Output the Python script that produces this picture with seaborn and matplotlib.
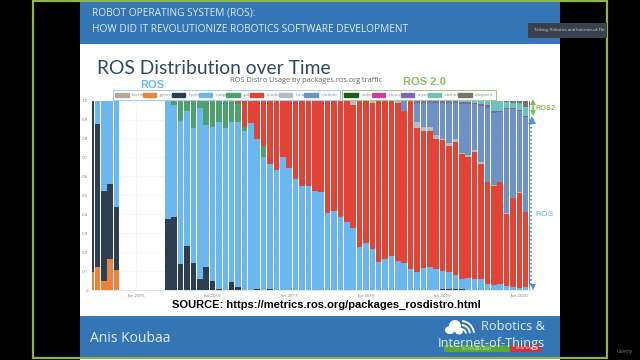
import numpy as np
import pandas as pd
import matplotlib
matplotlib.use("Agg")
import matplotlib.pyplot as plt
from matplotlib.patches import Rectangle, Patch, Ellipse, Arc
import seaborn as sns

# months shown on the chart, jun 2014 to mar 2020
months = [d.strftime("%Y-%m") for d in pd.date_range("2014-06-01", "2020-03-01", freq="MS")]
tick_months = ["2015-01", "2016-01", "2017-01", "2018-01", "2019-01", "2020-01"]
tick_labels = ["Jan 2015", "Jan 2016", "Jan 2017", "Jan 2018", "Jan 2019", "Jan 2020"]
y_ticks = [0, 0.1, 0.2, 0.3, 0.4, 0.5, 0.6, 0.7, 0.8, 0.9, 1.0]
y_labels = ["0", "0.1", "0.2", "0.3", "0.4", "0.5", "0.6", "0.7", "0.8", "0.9", "1.0"]

# top edge of every distro in the stack
# (5 bars, 7 empty months, then 58 bars)
gap = [0] * 7
groovy = [.096, .12, .05, .163, .105] + gap + [0] * 58
hydro = [1.0, .877, .521, .56, .439] + gap + [
    .374, .386, .137, .232, .14, .06, .12, .046, .003, .002, .04, .014, .001, .002, .007, .001, .005,
    0, 0, 0, 0, 0, 0, 0, 0, 0, 0, 0, 0, 0, 0, 0, 0, 0, 0, 0, 0, 0, 0,
    .002, .002, .002, .002, .003, .003, .004, .004, 0, 0, 0, 0, 0, 0, 0, 0, 0, 0, 0]
indigo = [1, 1, 1, 1, 1] + gap + [
    1.0, .977, .891, .945, .858, .963, .874, .861, .886, .858, .886, .886, .842, .88, .796, .70,
    .665, .635, .70, .646, .588, .547, .547, .521, .519,
    .407, .418, .386, .36, .325, .225, .25, .216, .149, .163, .179, .154, .144, .112, .096, .116,
    .119, .11, .098, .096, .077, .06, .063, .058, .058, .03, .026, .032, .021, .016, .01, .016, .015]
jade = [0] * 5 + gap + [0] + [1] * 10 + [.986, .863, 0, 0, .763] + [0] * 42
kinetic = [0] * 5 + gap + [0] * 11 + [1] * 18 + [.977, 1, 1, .986, 1, 1, 1, .99, .947, 1,
    .854, .84, .838, .796, .79, .761, .784, .716, .705, .73, .667,
    .568, .55, .568, .404, .484, .515, .41, .34]
lunar = [0] * 5 + gap + [0] * 29 + [1, 0, 0, 1, 0, 0, 0, 1, 0, 0,
    .886, .863, .863, .818, .80, .775, .8, .726, .714, .74, .674,
    .572, .556, .57, .408, .488, .518, .414, .345]
melodic = [0] * 5 + gap + [0] * 37 + [1, 0] + [.99] * 7 + [
    .985, .983, .982, .972, .961, .937, .94, .956, .955, .948, .916, .905]
crystal = [0] * 5 + gap + [0] * 39 + [1] * 7 + [
    .995, .993, .99, .985, .975, .945, .948, .962, .96, .952, .92, .91]
dashing = [0] * 5 + gap + [0] * 39 + [1] * 14 + [.995, .99, .99, .968, .96]
eloquent = [0] * 5 + gap + [0] * 53 + [1] * 5

colors = {"fuerte": "#b5a89a", "groovy": "#e8843e", "hydro": "#2c3e50", "indigo": "#6cb8ee",
          "jade": "#4fa06f", "kinetic": "#e04436", "lunar": "#b4bcc0", "melodic": "#6f92c4",
          "ardent": "#1f5b1f", "bouncy": "#d040a0", "crystal": "#7d67b0", "dashing": "#6cc2bd",
          "eloquent": "#75756a"}
ros1_names = ["fuerte", "groovy", "hydro", "indigo", "jade", "kinetic", "lunar", "melodic"]
ros2_names = ["ardent", "bouncy", "crystal", "dashing", "eloquent"]

W, H = 640, 360
sns.set_theme(style="white")
plt.rcParams["font.family"] = ["Open Sans", "DejaVu Sans"]

fig = plt.figure(figsize=(6.4, 3.6), dpi=100, facecolor="black")

# page behind the chart, in pixel coordinates
bg = fig.add_axes([0, 0, 1, 1], zorder=0)
bg.set_xlim(0, W)
bg.set_ylim(H, 0)
bg.axis("off")
bg.add_patch(Rectangle((80, 0), 480, 360, color="white", lw=0))
bg.add_patch(Rectangle((80, 0), 480, 44, color="#3375b5", lw=0))
bg.add_patch(Rectangle((80, 316), 480, 43, color="#3375b5", lw=0))
bg.text(92, 13, "ROBOT OPERATING SYSTEM (ROS):", color="#e4edf5", fontsize=7.3, va="center", family="Open Sans")
bg.text(92, 29, "HOW DID IT REVOLUTIONIZE ROBOTICS SOFTWARE DEVELOPMENT", color="#e4edf5",
        fontsize=7.3, va="center", family="Open Sans")
bg.text(97, 68, "ROS Distribution over Time", color="#2d4a60", fontsize=13.9, va="center", family="Lato")
bg.text(326, 305, "SOURCE: https://metrics.ros.org/packages_rosdistro.html", color="black", fontsize=8.05,
        weight="bold", ha="center", va="center", family="Liberation Sans")
bg.text(90, 339, "Anis Koubaa", color="#e4edf5", fontsize=10, va="center", family="Open Sans")
bg.text(306, 81, "ROS Distro Usage by packages.ros.org traffic", color="#666666", fontsize=5.3,
        ha="center", va="center", family="Open Sans")
bg.text(152, 85, "ROS", color="#6db8e8", fontsize=8, weight="bold", ha="center", va="center",
        family="Liberation Sans")
bg.text(424, 82, "ROS 2.0", color="#8cc063", fontsize=8, weight="bold", ha="center", va="center",
        family="Liberation Sans")

# the stacked bars, one layer per distro from the back to the front
ax = fig.add_axes([91.6 / W, 1 - 290 / H, (530 - 91.6) / W, (290 - 100.7) / H], zorder=1)
layers = [("eloquent", eloquent), ("dashing", dashing), ("crystal", crystal), ("melodic", melodic),
          ("lunar", lunar), ("kinetic", kinetic), ("jade", jade), ("indigo", indigo),
          ("hydro", hydro), ("groovy", groovy)]
for name, tops in layers:
    sns.barplot(x=months, y=tops, order=months, color=colors[name], saturation=1, width=0.87,
                linewidth=0, errorbar=None, ax=ax)

ax.set_facecolor("none")
ax.set_xlim(0.08, 68.67)
ax.set_ylim(0, 1)
ax.set_xticks([months.index(m) for m in tick_months])
ax.set_xticklabels(tick_labels, fontsize=3.2, color="#777777")
ax.set_yticks(y_ticks)
ax.set_yticklabels(y_labels, fontsize=3.2, color="#777777")
ax.tick_params(length=0, pad=2.5)
ax.grid(True, color="#f1f1f1", lw=0.5)
ax.set_axisbelow(True)
for s in ax.spines.values():
    s.set_visible(False)
ax.spines["bottom"].set_visible(True)
ax.spines["bottom"].set_color("#d8dde2")
ax.spines["bottom"].set_linewidth(0.5)

# the two legends, boxes in figure pixels
def distro_legend(names, x0, x1, edge):
    leg = ax.legend(handles=[Patch(color=colors[n], label=n) for n in names], ncol=len(names),
                    mode="expand", loc="lower left", borderaxespad=0, fontsize=3.2,
                    bbox_to_anchor=(x0 / W, 1 - 99.5 / H, (x1 - x0) / W, 10 / H),
                    bbox_transform=fig.transFigure, frameon=True, fancybox=False,
                    edgecolor=edge, facecolor="white", framealpha=1, handlelength=3.0,
                    handleheight=1.0, handletextpad=0.8, borderpad=0.55, labelcolor="#888888")
    leg.get_frame().set_linewidth(0.8)
    return leg

ax.add_artist(distro_legend(ros1_names, 113, 340, "#a9cfe8"))
distro_legend(ros2_names, 342, 496, "#a8c98c")

# overlay: ROS / ROS2 markers, logo, meeting widgets
top = fig.add_axes([0, 0, 1, 1], zorder=2)
top.set_xlim(0, W)
top.set_ylim(H, 0)
top.axis("off")
top.patch.set_alpha(0)

top.plot([533, 533], [103, 112], color="#79bd55", lw=1.2)
top.plot([533], [102], marker="^", ms=4.5, color="#79bd55", mew=0)
top.plot([533], [113], marker="v", ms=4.5, color="#79bd55", mew=0)
top.text(536, 108, "ROS2", color="#8cc063", fontsize=5.3, weight="bold", va="center", family="Liberation Sans")
top.plot([531, 531], [123, 285], color="#3f8fd8", lw=1.2, ls=(0, (1, 1.4)))
top.plot([532], [120], marker="^", ms=6, color="#4a94e0", mew=0)
top.plot([533], [287], marker="v", ms=5, color="#4a94e0", mew=0)
top.text(536, 215, "ROS", color="#8cc3e8", fontsize=6, weight="bold", va="center", family="Liberation Sans")

# logo
for cx, cy, rx, ry in [(450, 330, 5, 4), (455, 326, 6, 6), (459, 331, 4, 3.5)]:
    top.add_patch(Ellipse((cx, cy), rx * 2, ry * 2, color="white", lw=0))
for r in [5, 9, 13]:
    top.add_patch(Arc((461, 334), r * 2, r * 2, theta1=275, theta2=355, color="white", lw=1.3))
top.text(481, 327, "Robotics &", color="#e4edf5", fontsize=9.2, va="center", family="Open Sans")
top.text(545, 343, "Internet-of-Things", color="#e4edf5", fontsize=9.2, ha="right", va="center", family="Open Sans")

# frame and zoom widgets
top.add_patch(Rectangle((33, 1), 574, 357, fill=False, edgecolor="#8fb24f", lw=1.6))
top.add_patch(Rectangle((444, 345), 66, 7, color="#5aa63c", lw=0))
top.add_patch(Rectangle((510, 345), 31, 7, color="#c8353d", lw=0))
top.text(477, 348.5, "ID: 509-481-4241", color="#dfeedd", fontsize=2.6, ha="center", va="center")
top.text(526, 348.5, "Stop Share", color="#f6dddd", fontsize=2.8, ha="center", va="center")
top.add_patch(Rectangle((528, 23), 79, 15, color="#37424d", lw=0))
top.text(534, 30.5, "Talking: Robotics and Internet-of-Thi", color="#d8dde2", fontsize=3.0, va="center")
top.text(625, 352, "Udemy", color="#777777", fontsize=3.5, ha="center", va="center")

fig.savefig("out.png", dpi=100, facecolor="black")
